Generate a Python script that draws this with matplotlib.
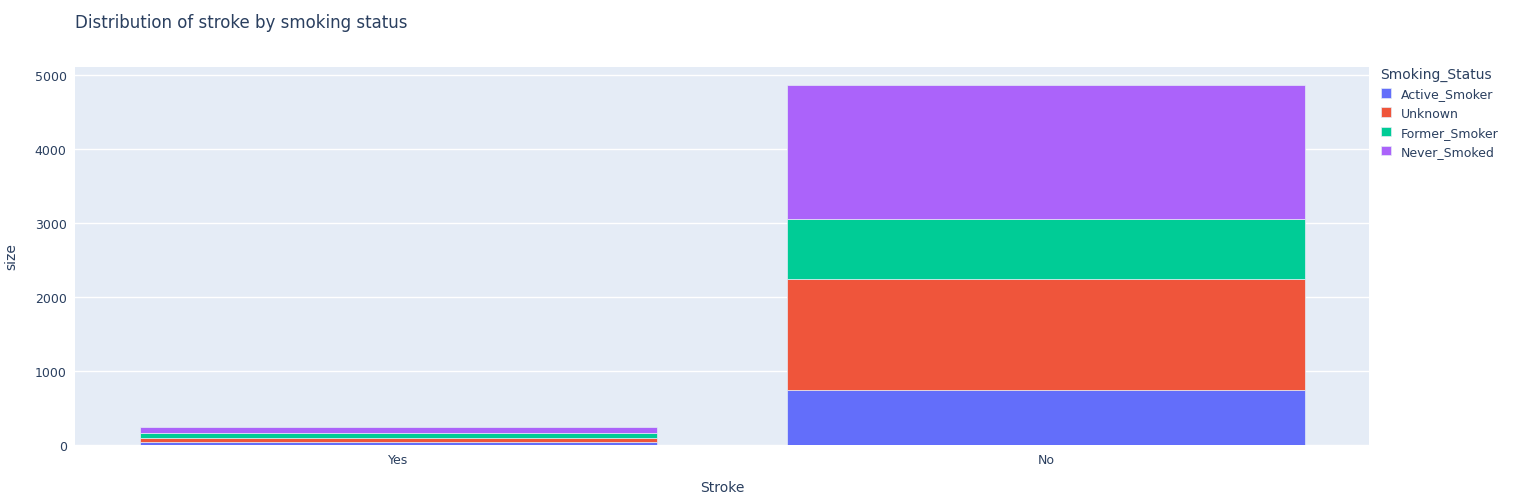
import matplotlib.pyplot as plt
import numpy as np

categories = ["Yes", "No"]
series_names = ["Active_Smoker", "Unknown", "Former_Smoker", "Never_Smoked"]
active_smoker = [42, 747]
unknown = [47, 1497]
former_smoker = [70, 815]
never_smoked = [90, 1802]
colors = ["#636efa", "#EF553B", "#00cc96", "#ab63fa"]

fig = plt.figure(figsize=(15.3, 5.02), dpi=100)
ax = fig.add_axes([0.049, 0.1116, 0.846, 0.753])
ax.set_facecolor("#E5ECF6")

x = np.arange(len(categories))
bottom = np.zeros(len(categories))
for name, vals, c in zip(series_names, [active_smoker, unknown, former_smoker, never_smoked], colors):
    ax.bar(x, vals, width=0.8, bottom=bottom, color=c, label=name,
           edgecolor="#E5ECF6", linewidth=0.5, zorder=3)
    bottom += np.array(vals)

ax.set_xlim(-0.5, 1.5)
ax.set_ylim(0, 5110)
ax.set_yticks([0, 1000, 2000, 3000, 4000, 5000])
ax.set_xticks(x)
ax.set_xticklabels(categories)
ax.grid(axis="y", color="white", linewidth=1, zorder=0)
for s in ax.spines.values():
    s.set_visible(False)
ax.tick_params(length=0, labelsize=9, colors="#2a3f5f", pad=6)
ax.set_xlabel("Stroke", fontsize=10, color="#2a3f5f", labelpad=10)
ax.set_ylabel("size", fontsize=10, color="#2a3f5f", labelpad=12)
fig.text(0.049, 0.955, "Distribution of stroke by smoking status", fontsize=12,
         color="#2a3f5f", va="center")

leg = ax.legend(loc="upper left", bbox_to_anchor=(1.0, 1.03), frameon=False,
                title="Smoking_Status", fontsize=9, handlelength=0.8,
                handleheight=0.8, labelcolor="#2a3f5f")
leg.get_title().set_color("#2a3f5f")
leg.get_title().set_fontsize(10)
leg._legend_box.align = "left"

fig.savefig("out.png")
